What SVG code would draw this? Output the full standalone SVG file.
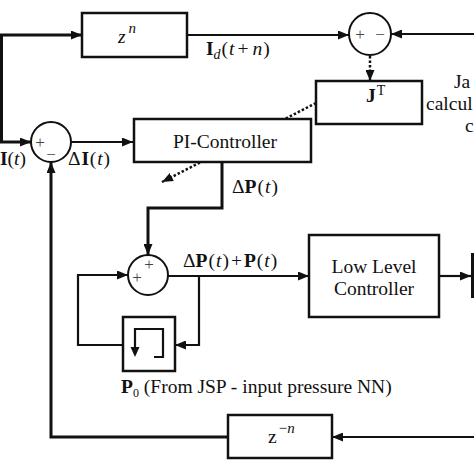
<svg xmlns="http://www.w3.org/2000/svg" width="474" height="474" viewBox="0 0 474 474">
<style>
text{font-family:"Liberation Serif","Times New Roman",serif;font-size:19.5px;fill:#111}
.box{fill:#fff;stroke:#111;stroke-width:2.5}
.sum{fill:#fff;stroke:#111;stroke-width:2}
.ln{fill:none;stroke:#111;stroke-width:2.2}
.thick{fill:none;stroke:#111;stroke-width:3}
.dot{fill:none;stroke:#111;stroke-width:2.5;stroke-dasharray:2.5 2}
.sg{font-size:17px;fill:#444}
.b{font-weight:bold}
.i{font-style:italic}
</style>
<defs>
<marker id="ah" markerUnits="userSpaceOnUse" markerWidth="11" markerHeight="9" refX="11" refY="4.5" orient="auto">
<path d="M0,0 L11,4.5 L0,9 z" fill="#111"/>
</marker>
</defs>
<rect width="474" height="474" fill="#fff"/>
<g id="connectors">
<path class="thick" d="M0,142 H31" marker-end="url(#ah)"/>
<path class="thick" d="M1.5,143 V35 H82" marker-end="url(#ah)"/>
<path class="ln" d="M71,142 H133" marker-end="url(#ah)"/>
<path class="ln" d="M187,35 H349" marker-end="url(#ah)"/>
<path class="ln" d="M474,34 H391" marker-end="url(#ah)"/>
<path class="dot" d="M370,56 V81" marker-end="url(#ah)"/>
<path class="dot" d="M316,103 L162,182" marker-end="url(#ah)"/>
<path class="thick" d="M222,162 V208 H148 V255" marker-end="url(#ah)"/>
<path class="ln" d="M168,276 H309" marker-end="url(#ah)"/>
<path class="ln" d="M199,276 V345 H175" marker-end="url(#ah)"/>
<path class="ln" d="M123,345 H78 V275 H128" marker-end="url(#ah)"/>
<path class="ln" d="M439,276 H471" marker-end="url(#ah)"/>
<path class="ln" d="M474,437 H332" marker-end="url(#ah)"/>
<path class="thick" d="M228,437 H51 V162" marker-end="url(#ah)"/>
</g>
<g id="zn">
<rect class="box" x="82" y="13" width="105" height="44"/>
<text x="118" y="43"><tspan class="i">z</tspan><tspan class="i" font-size="15" dx="3" dy="-10">n</tspan></text>
</g>
<g id="sum1">
<circle class="sum" cx="51" cy="142" r="20"/>
<text class="sg" x="40" y="148" text-anchor="middle">+</text>
<text class="sg" x="51" y="160" text-anchor="middle">−</text>
</g>
<g id="sum2">
<circle class="sum" cx="370" cy="34" r="21"/>
<text class="sg" x="360" y="40" text-anchor="middle">+</text>
<text class="sg" x="380" y="40" text-anchor="middle">−</text>
</g>
<g id="jt">
<rect class="box" x="316" y="81" width="106" height="43"/>
<text x="366" y="102"><tspan class="b">J</tspan><tspan font-size="14" dx="1" dy="-7">T</tspan></text>
</g>
<g id="pi">
<rect class="box" x="134" y="119" width="177" height="43"/>
<text x="225" y="148" text-anchor="middle">PI-Controller</text>
</g>
<g id="sum3">
<circle class="sum" cx="148" cy="275" r="20"/>
<text class="sg" x="149" y="270" text-anchor="middle">+</text>
<text class="sg" x="137" y="283" text-anchor="middle">+</text>
</g>
<g id="delay">
<rect class="box" x="123" y="317" width="52" height="54"/>
<path class="ln" d="M154,357 H163 V329 H135 V348"/>
<path d="M130.5,347 L139.5,347 L135,357 z" fill="#111"/>
</g>
<g id="llc">
<rect class="box" x="309" y="235" width="130" height="82"/>
<text x="374" y="273" text-anchor="middle">Low Level</text>
<text x="374" y="295" text-anchor="middle">Controller</text>
</g>
<g id="plant">
<rect x="471" y="253" width="4" height="45" fill="#111"/>
</g>
<g id="zmn">
<rect class="box" x="228" y="415" width="104" height="43"/>
<text x="268" y="443">z<tspan font-size="15" dx="2" dy="-10">−</tspan><tspan class="i" font-size="15">n</tspan></text>
</g>
<g id="labels">
<text x="0" y="165"><tspan class="b">I</tspan>(<tspan class="i">t</tspan>)</text>
<text x="68" y="165" textLength="42" lengthAdjust="spacing">Δ<tspan class="b">I</tspan>(<tspan class="i">t</tspan>)</text>
<text x="206" y="55"><tspan class="b">I</tspan><tspan class="i" font-size="14" dy="4">d</tspan><tspan dy="-4" dx="1">(</tspan><tspan class="i" dx="1">t</tspan><tspan dx="3">+</tspan><tspan class="i" dx="4">n</tspan><tspan dx="1">)</tspan></text>
<text x="232" y="193">Δ<tspan class="b">P</tspan><tspan dx="1">(</tspan><tspan class="i" dx="1">t</tspan><tspan dx="1">)</tspan></text>
<text x="183" y="267">Δ<tspan class="b">P</tspan><tspan dx="1">(</tspan><tspan class="i" dx="1">t</tspan><tspan dx="1">)</tspan><tspan dx="2">+</tspan><tspan class="b" dx="2">P</tspan><tspan dx="1">(</tspan><tspan class="i" dx="1">t</tspan><tspan dx="1">)</tspan></text>
<text x="121" y="393"><tspan class="b">P</tspan><tspan font-size="12" dy="4">0</tspan><tspan dy="-4"> (From JSP - input pressure NN)</tspan></text>
<text x="454" y="88">Ja</text>
<text x="426" y="110">calcul</text>
<text x="465" y="132">c</text>
</g>
</svg>
